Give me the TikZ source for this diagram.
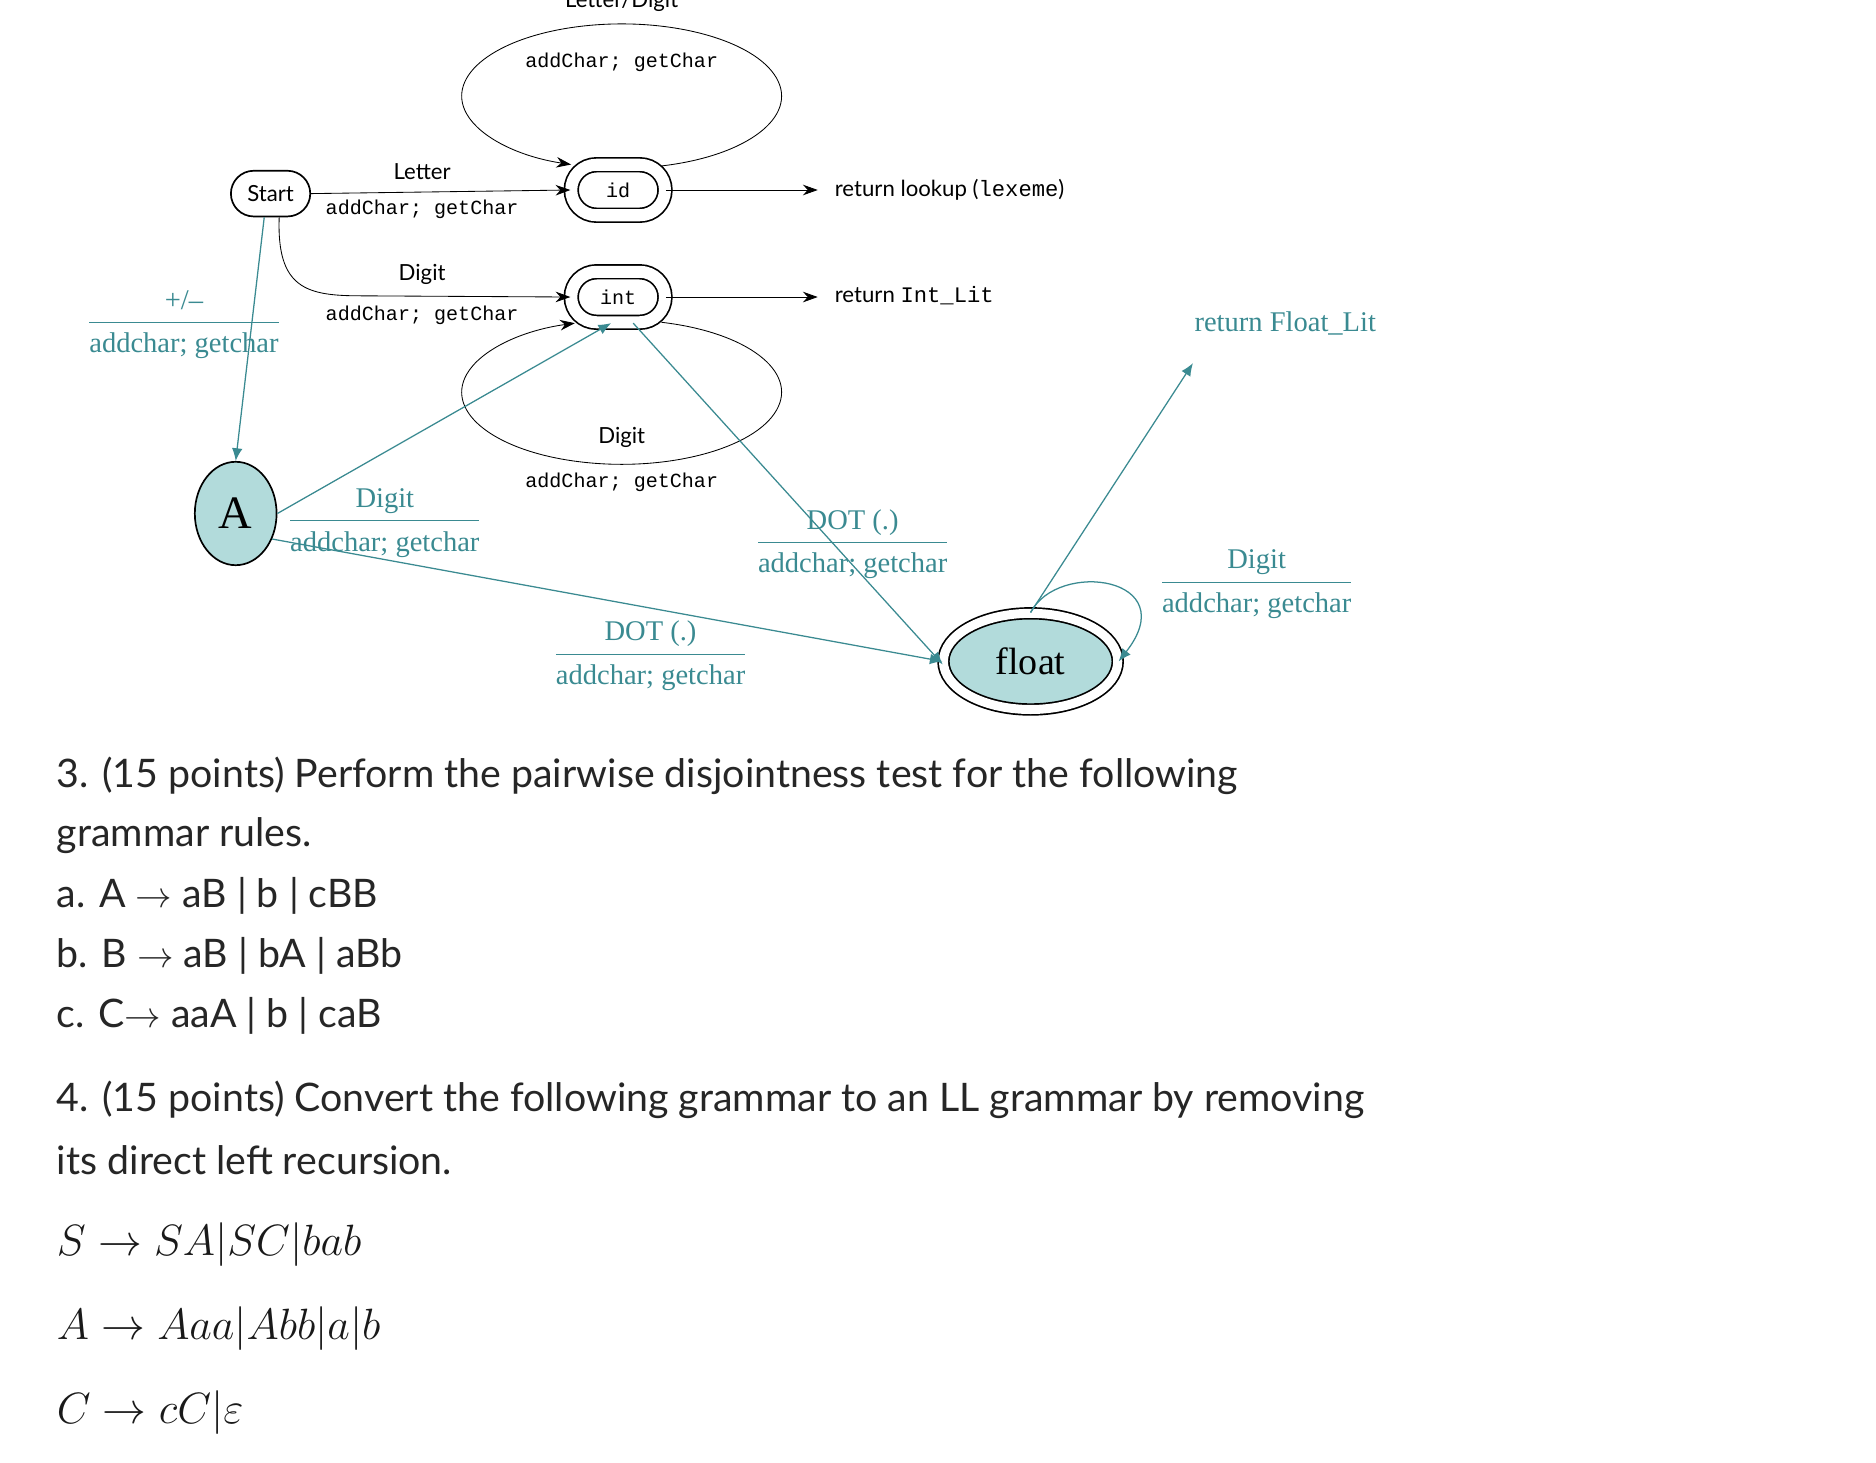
\documentclass[tikz,border=0pt]{standalone}
\usepackage{fontspec}
\setmainfont{Lato}
\newfontfamily\serif{Liberation Serif}
\newfontfamily\mono{Liberation Mono}
\usepackage{amsmath}
\usetikzlibrary{arrows.meta, positioning, shapes.misc, shapes.geometric}
\definecolor{teal1}{RGB}{58,138,145}
\definecolor{tealfill}{RGB}{178,219,219}
\renewcommand{\arraystretch}{1.35}

\begin{document}
\begin{tikzpicture}[
    x=0.02cm, y=-0.02cm,
    state/.style={draw, thick, rounded rectangle, inner sep=0pt, font=\mono\fontsize{9.5}{11}\selectfont},
    accept/.style={state, double, double distance=0.2cm, minimum width=1.56cm, minimum height=0.84cm},
    arrow/.style={-{Stealth[length=7pt, width=5pt]}, thin},
    tarrow/.style={-{Latex[length=6pt, width=5pt]}, teal1, semithick},
    lbl/.style={font=\fontsize{10.5}{12}\selectfont},
    code/.style={font=\mono\fontsize{9.5}{11}\selectfont},
    frac/.style={teal1, inner sep=0pt, font=\serif\fontsize{13.5}{15}\selectfont},
    body/.style={anchor=west, inner sep=0pt, font=\fontsize{18.6}{22}\selectfont, text=black!85},
    gram/.style={body, font=\fontsize{22}{26}\selectfont, text=black!90}
]
\useasboundingbox (0,0) rectangle (1560,1216);

% Nodes
\node[state, minimum width=1.32cm, minimum height=0.76cm, font=\fontsize{10.5}{12}\selectfont] (start) at (225,161) {Start};
\node[accept] (id) at (514,158) {id};
\node[accept] (int) at (514,247) {int};
\node[draw, thick, ellipse, fill=tealfill, minimum width=1.36cm, minimum height=1.72cm, inner sep=0pt, font=\serif\fontsize{22}{24}\selectfont] (stateA) at (196,427) {A};
\node[draw, thick, ellipse, fill=tealfill, double, double distance=0.15cm, minimum width=2.9cm, minimum height=1.6cm, inner sep=0pt, font=\serif\fontsize{18}{20}\selectfont] (float) at (857,550) {float};

\coordinate (idret) at (680,158);
\coordinate (intret) at (680,247);
\coordinate (floatret) at (992,302);
\node[lbl, anchor=west] (idrettext) at (688,158) {return lookup ({\mono lexeme})};
\node[lbl, anchor=west] (intrettext) at (688,246) {return {\mono Int\_Lit}};
\node[frac, anchor=west] (floatrettext) at (993,269) {return Float\_Lit};

% Labels
\node[lbl] (lettop) at (517,1) {Letter/Digit};
\node[code] (letloop) at (517,52) {addChar; getChar};
\node[lbl] (letter) at (351,143) {Letter};
\node[code] (letact) at (351,174) {addChar; getChar};
\node[lbl] (digit) at (351,228) {Digit};
\node[code] (digact) at (351,262) {addChar; getChar};
\node[lbl] (digloop) at (517,364) {Digit};
\node[code] (digloopact) at (517,401) {addChar; getChar};
\node[frac] (signlbl) at (153,268) {\begin{tabular}{@{}c@{}}+/\textendash\\\hline addchar; getchar\end{tabular}};
\node[frac] (adiglbl) at (320,433) {\begin{tabular}{@{}c@{}}Digit\\\hline addchar; getchar\end{tabular}};
\node[frac] (adotlbl) at (541,544) {\begin{tabular}{@{}c@{}}DOT (.)\\\hline addchar; getchar\end{tabular}};
\node[frac] (idotlbl) at (709,451) {\begin{tabular}{@{}c@{}}DOT (.)\\\hline addchar; getchar\end{tabular}};
\node[frac] (fdiglbl) at (1045,484) {\begin{tabular}{@{}c@{}}Digit\\\hline addchar; getchar\end{tabular}};

% Arrows
\draw[arrow] (start.east) -- (id.west);
\draw[arrow] (start.290) .. controls (230,240) and (255,246) .. (300,246) -- (int.west);
\draw[arrow] (id.east) -- (idret);
\draw[arrow] (int.east) -- (intret);
\draw[arrow] (550,138) arc[start angle=75.6, end angle=-251.6, x radius=133, y radius=60];
\draw[arrow] (550,268) arc[start angle=-75.6, end angle=253, x radius=133, y radius=60];
\draw[tarrow] (start.255) -- (stateA.north);
\draw[tarrow] (stateA.east) -- (int.255);
\draw[tarrow] (stateA.-35) -- (float.west);
\draw[tarrow] (int.-60) -- (float.182);
\draw[tarrow] (float.north) -- (floatret);
\draw[tarrow] (float.north) .. controls (880,465) and (985,480) .. (float.east);

% Text
\node[body] (q3a) at (47,645) {3. (15 points) Perform the pairwise disjointness test for the following};
\node[body] (q3b) at (47,695) {grammar rules.};
\node[body] (q3c) at (47,745) {a. A $\rightarrow$ aB | b | cBB};
\node[body] (q3d) at (47,795) {b. B $\rightarrow$ aB | bA | aBb};
\node[body] (q3e) at (47,845) {c. C$\rightarrow$ aaA | b | caB};
\node[body] (q4a) at (47,915) {4. (15 points) Convert the following grammar to an LL grammar by removing};
\node[body] (q4b) at (47,965) {its direct left recursion.};
\node[gram] (g1) at (47,1035) {$S\rightarrow SA|SC|bab$};
\node[gram] (g2) at (47,1105) {$A\rightarrow Aaa|Abb|a|b$};
\node[gram] (g3) at (47,1175) {$C\rightarrow cC|\varepsilon$};
\end{tikzpicture}
\end{document}
